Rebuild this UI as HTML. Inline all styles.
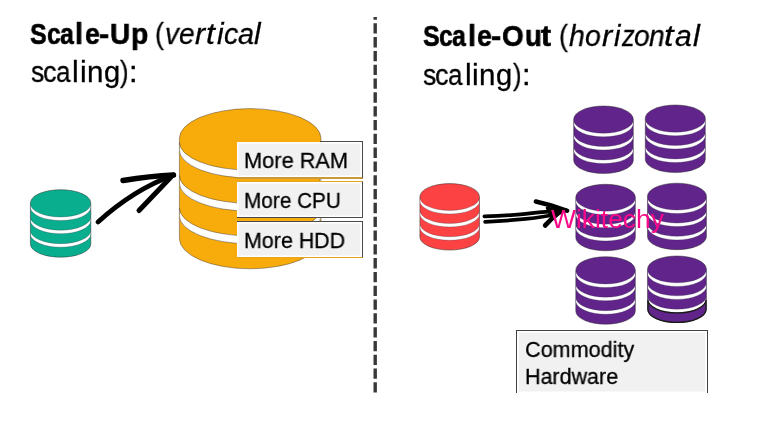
<!DOCTYPE html>
<html><head><meta charset="utf-8">
<style>
html,body{margin:0;padding:0;background:#fff;}
body{width:760px;height:443px;position:relative;overflow:hidden;font-family:"Liberation Sans",sans-serif;color:#000;}
.t{position:absolute;white-space:nowrap;line-height:1;transform-origin:0 0;will-change:transform;}
.title{font-size:29px;}
.bd{-webkit-text-stroke:0.65px #000;}
.rg{-webkit-text-stroke:0.3px #000;}
.box{position:absolute;background:#f1f1f1;box-sizing:border-box;border-right:1.4px solid #4a4a4a;box-shadow:inset 1.6px 1.6px 0 #fff,inset -1.6px -1.6px 0 #fff;}
.bt{font-size:22px;-webkit-text-stroke:0.3px #000;}
svg{position:absolute;left:0;top:0;}
</style></head>
<body>
<svg width="760" height="443" viewBox="0 0 760 443">
  <defs>
    <clipPath id="cs" clipPathUnits="userSpaceOnUse"><path d="M0,13.75 A30,13.25 0 0 1 60,13.75 L60,54.75 A30,13.25 0 0 1 0,54.75 Z"/></clipPath>
    <clipPath id="co" clipPathUnits="userSpaceOnUse"><path d="M179.4,138.4 A70.8,29.8 0 0 1 321,138.4 L321,238.5 A70.8,30.3 0 0 1 179.4,238.5 Z"/></clipPath>
    <g id="db">
      <path d="M0,13.75 A30,13.25 0 0 1 60,13.75 L60,54.75 A30,13.25 0 0 1 0,54.75 Z" stroke="rgba(40,40,40,0.6)" stroke-width="0.8"/>
      <path clip-path="url(#cs)" fill="#fff" stroke="rgba(40,40,60,0.45)" stroke-width="0.6" d="M0,14.50 A30,13.25 0 0 0 60,14.50 L60,18.10 A30,13.25 0 0 1 0,18.10 Z M0,27.70 A30,13.25 0 0 0 60,27.70 L60,31.30 A30,13.25 0 0 1 0,31.30 Z M0,41.20 A30,13.25 0 0 0 60,41.20 L60,44.80 A30,13.25 0 0 1 0,44.80 Z"/>
    </g>
  </defs>
  <!-- dashed divider -->
  <line x1="375.2" y1="9.5" x2="375.2" y2="392.6" stroke="#383838" stroke-width="3.4" stroke-dasharray="10.3 3.51"/>
  <rect x="370" y="0" width="10" height="17" fill="#fff"/>
  <!-- teal db -->
  <use href="#db" fill="#08ae8e" transform="translate(30.4,189.2) scale(1.007,1)"/>
  <!-- arrow -->
  <g fill="none" stroke="#000" stroke-linecap="round" stroke-linejoin="round">
    <path d="M98,222 Q133,190 173.5,175" stroke-width="4.8"/>
    <path d="M123,180.5 Q150,176 173.5,175" stroke-width="5.4"/>
    <path d="M139,210.5 L171,177" stroke-width="5"/>
  </g>
  <!-- orange db -->
  <path fill="#f8ac0b" d="M179.4,138.4 A70.8,29.8 0 0 1 321,138.4 L321,238.5 A70.8,30.3 0 0 1 179.4,238.5 Z" stroke="rgba(40,40,60,0.5)" stroke-width="0.8"/>
  <path clip-path="url(#co)" fill="#fff" stroke="rgba(40,40,60,0.5)" stroke-width="0.8" d="M179.4,142.20 A70.8,28 0 0 0 321,142.20 L321,150.00 A70.8,28 0 0 1 179.4,150.00 Z M179.4,175.40 A70.8,28 0 0 0 321,175.40 L321,183.20 A70.8,28 0 0 1 179.4,183.20 Z M179.4,208.00 A70.8,28 0 0 0 321,208.00 L321,215.80 A70.8,28 0 0 1 179.4,215.80 Z"/>
  <!-- red db -->
  <use href="#db" fill="#fc4242" transform="translate(419.9,183.1) scale(0.993,0.985)"/>
  <!-- purple dbs -->
  <g fill="#60248a">
    <use href="#db" transform="translate(573.7,105.5) scale(0.993,1)"/>
    <use href="#db" transform="translate(645.3,104.5) scale(1,1)"/>
    <use href="#db" transform="translate(575.8,183.8) scale(0.992,0.985)"/>
    <use href="#db" transform="translate(647.5,182.7) scale(0.982,0.985)"/>
    <use href="#db" transform="translate(575.8,256.2) scale(0.992,1)"/>
    <use href="#db" transform="translate(647.5,255.5) scale(0.982,0.985)"/>
    <path transform="translate(647.5,255.5) scale(0.982,0.985)" fill="none" stroke="#1a1a1a" stroke-width="1.3" d="M0.5,45.0 A29.5,13.25 0 0 0 59.5,45.0 L59.5,54.75 A29.5,13.25 0 0 1 0.5,54.75 Z"/>
  </g>
  <!-- double arrow -->
  <g fill="none" stroke="#000" stroke-linecap="round" stroke-linejoin="round">
    <path d="M484.4,216.4 C497,216 515,215 525.7,213.8 S550,211 566.5,210.3" stroke-width="3.7"/>
    <path d="M485.1,221.8 C497,221.3 515,220 525.7,218.9 S546,216.5 557,214" stroke-width="3.7"/>
    <path d="M535.8,201.5 Q552,205 567.2,210.8" stroke-width="4.4"/>
    <path d="M545.2,225.4 Q551,219 559,212.5" stroke-width="4.8"/>
    <path d="M547,208 L566.5,210.5 L551,216.5 Z" fill="#000" stroke-width="2.5"/>
  </g>
</svg>

<!-- boxes -->
<div class="box" style="left:237px;top:141px;width:126.1px;height:37.7px;border-top:1.3px solid #4a4a4a;border-bottom:2px solid #c99a3a;"></div>
<div style="position:absolute;left:236px;top:140.5px;width:84px;height:1.8px;background:#f8ac0b;"></div>
<div class="box" style="left:237px;top:180.6px;width:126.1px;height:37.5px;border-top:1.5px solid #e8a420;border-bottom:1.6px solid #4a4a4a;"></div>
<div class="box" style="left:237px;top:220.6px;width:126.1px;height:37.9px;border-top:1.9px solid #4a4a4a;border-bottom:1.8px solid #e8a420;"></div>
<div class="box" style="left:516.3px;top:330.1px;width:192px;height:63.4px;border:1.6px solid #404040;border-bottom:none;"></div>

<!-- titles -->
<div class="t title bd" style="left:30.22px;top:19.11px;transform:scaleX(0.832);font-weight:bold;font-size:30px;">S</div>
<div class="t title bd" style="left:47.08px;top:19.11px;transform:scaleX(0.822);font-weight:bold;font-size:30px;">c</div>
<div class="t title bd" style="left:59.56px;top:19.11px;transform:scaleX(0.832);font-weight:bold;font-size:30px;">a</div>
<div class="t title bd" style="left:75.31px;top:19.11px;transform:scaleX(0.940);font-weight:bold;font-size:30px;">l</div>
<div class="t title bd" style="left:84.51px;top:19.11px;transform:scaleX(0.891);font-weight:bold;font-size:30px;">e</div>
<div class="t title bd" style="left:98.92px;top:19.11px;transform:scaleX(1.020);font-weight:bold;font-size:30px;">-</div>
<div class="t title bd" style="left:110.11px;top:19.11px;transform:scaleX(0.935);font-weight:bold;font-size:30px;">U</div>
<div class="t title bd" style="left:130.50px;top:19.11px;transform:scaleX(0.942);font-weight:bold;font-size:30px;">p</div>
<div class="t title rg" style="left:154.88px;top:19.90px;transform:scaleX(0.920);">(</div>
<div class="t title rg" style="left:165.03px;top:19.90px;transform:scaleX(0.957);font-style:italic;">v</div>
<div class="t title rg" style="left:178.70px;top:19.90px;transform:scaleX(0.969);font-style:italic;">e</div>
<div class="t title rg" style="left:194.67px;top:19.90px;transform:scaleX(1.048);font-style:italic;">r</div>
<div class="t title rg" style="left:206.37px;top:19.90px;transform:scaleX(1.105);font-style:italic;">t</div>
<div class="t title rg" style="left:216.86px;top:19.90px;transform:scaleX(1.021);font-style:italic;">i</div>
<div class="t title rg" style="left:223.59px;top:19.90px;transform:scaleX(0.980);font-style:italic;">c</div>
<div class="t title rg" style="left:237.80px;top:19.90px;transform:scaleX(0.991);font-style:italic;">a</div>
<div class="t title rg" style="left:253.96px;top:19.90px;transform:scaleX(1.021);font-style:italic;">l</div>
<div class="t title rg" style="left:30.75px;top:58.30px;transform:scaleX(0.912);">s</div>
<div class="t title rg" style="left:42.71px;top:58.30px;transform:scaleX(0.932);">c</div>
<div class="t title rg" style="left:55.91px;top:58.30px;transform:scaleX(0.897);">a</div>
<div class="t title rg" style="left:72.47px;top:58.30px;transform:scaleX(1.040);">l</div>
<div class="t title rg" style="left:79.77px;top:58.30px;transform:scaleX(1.040);">i</div>
<div class="t title rg" style="left:87.08px;top:58.30px;transform:scaleX(1.018);">n</div>
<div class="t title rg" style="left:103.57px;top:58.30px;transform:scaleX(1.004);">g</div>
<div class="t title rg" style="left:120.45px;top:58.30px;transform:scaleX(0.887);">)</div>
<div class="t title rg" style="left:129.30px;top:58.30px;transform:scaleX(1.064);">:</div>
<div class="t title bd" style="left:422.52px;top:21.01px;transform:scaleX(0.832);font-weight:bold;font-size:30px;">S</div>
<div class="t title bd" style="left:439.38px;top:21.01px;transform:scaleX(0.822);font-weight:bold;font-size:30px;">c</div>
<div class="t title bd" style="left:451.86px;top:21.01px;transform:scaleX(0.832);font-weight:bold;font-size:30px;">a</div>
<div class="t title bd" style="left:467.61px;top:21.01px;transform:scaleX(0.940);font-weight:bold;font-size:30px;">l</div>
<div class="t title bd" style="left:476.81px;top:21.01px;transform:scaleX(0.891);font-weight:bold;font-size:30px;">e</div>
<div class="t title bd" style="left:491.22px;top:21.01px;transform:scaleX(1.020);font-weight:bold;font-size:30px;">-</div>
<div class="t title bd" style="left:502.25px;top:21.01px;transform:scaleX(0.927);font-weight:bold;font-size:30px;">O</div>
<div class="t title bd" style="left:524.75px;top:21.01px;transform:scaleX(0.912);font-weight:bold;font-size:30px;">u</div>
<div class="t title bd" style="left:541.29px;top:21.01px;transform:scaleX(0.995);font-weight:bold;font-size:30px;">t</div>
<div class="t title rg" style="left:558.78px;top:21.80px;transform:scaleX(0.920);">(</div>
<div class="t title rg" style="left:569.34px;top:21.80px;transform:scaleX(0.978);font-style:italic;">h</div>
<div class="t title rg" style="left:585.15px;top:21.80px;transform:scaleX(0.978);font-style:italic;">o</div>
<div class="t title rg" style="left:601.94px;top:21.80px;transform:scaleX(1.063);font-style:italic;">r</div>
<div class="t title rg" style="left:614.37px;top:21.80px;transform:scaleX(0.990);font-style:italic;">i</div>
<div class="t title rg" style="left:622.04px;top:21.80px;transform:scaleX(0.880);font-style:italic;">z</div>
<div class="t title rg" style="left:633.69px;top:21.80px;transform:scaleX(0.968);font-style:italic;">o</div>
<div class="t title rg" style="left:649.27px;top:21.80px;transform:scaleX(0.968);font-style:italic;">n</div>
<div class="t title rg" style="left:663.64px;top:21.80px;transform:scaleX(1.177);font-style:italic;">t</div>
<div class="t title rg" style="left:675.29px;top:21.80px;transform:scaleX(1.036);font-style:italic;">a</div>
<div class="t title rg" style="left:692.86px;top:21.80px;transform:scaleX(1.058);font-style:italic;">l</div>
<div class="t title rg" style="left:423.15px;top:61.30px;transform:scaleX(0.912);">s</div>
<div class="t title rg" style="left:435.11px;top:61.30px;transform:scaleX(0.932);">c</div>
<div class="t title rg" style="left:448.31px;top:61.30px;transform:scaleX(0.897);">a</div>
<div class="t title rg" style="left:464.87px;top:61.30px;transform:scaleX(1.040);">l</div>
<div class="t title rg" style="left:472.17px;top:61.30px;transform:scaleX(1.040);">i</div>
<div class="t title rg" style="left:479.48px;top:61.30px;transform:scaleX(1.018);">n</div>
<div class="t title rg" style="left:495.97px;top:61.30px;transform:scaleX(1.004);">g</div>
<div class="t title rg" style="left:512.85px;top:61.30px;transform:scaleX(0.887);">)</div>
<div class="t title rg" style="left:521.70px;top:61.30px;transform:scaleX(1.064);">:</div>

<div class="t bt" style="left:244px;top:149.5px;transform:scaleX(0.99);">More RAM</div>
<div class="t bt" style="left:244px;top:189.5px;transform:scaleX(0.944);">More CPU</div>
<div class="t bt" style="left:244px;top:229.5px;transform:scaleX(0.974);">More HDD</div>
<div class="t bt" style="left:525.3px;top:339px;transform:scaleX(0.982);">Commodity</div>
<div class="t bt" style="left:524.8px;top:365.5px;transform:scaleX(0.976);">Hardware</div>

<div class="t" style="left:551px;top:206px;font-size:26px;color:#fa0a88;transform:scaleX(1.015);">Wikitechy</div>
</body></html>
